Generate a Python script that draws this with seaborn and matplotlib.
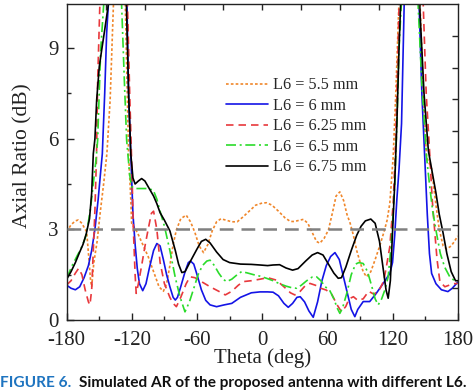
import numpy as np
import pandas as pd
import matplotlib
matplotlib.use("Agg")
import matplotlib.pyplot as plt
import seaborn as sns
from matplotlib.lines import Line2D

# ---------------- data ----------------
labels = ["L6 = 5.5 mm", "L6 = 6 mm", "L6 = 6.25 mm", "L6 = 6.5 mm", "L6 = 6.75 mm"]

theta_55 = [-180, -176, -172, -169.3, -166, -163, -161.6, -159.5, -158, -157, -156, -155, -152, -149, -146,
            -143, -140, -137, -133, -129, -126, -123, -121, -120.2, -115, -110, -105, -100, -95, -91, -88, -85,
            -82, -79, -75, -70, -66, -62, -58, -54, -50, -46, -42, -38, -33, -28, -23, -18, -12, -6, 0, 4, 9,
            15, 21, 26, 30, 34, 38, 42, 46, 50, 53, 57, 61, 65, 68, 71.5, 75, 78, 81, 84, 87, 90, 93, 96, 100,
            104, 108, 112, 115, 117.5, 120.6, 123, 125.8, 129, 142, 145.4, 148, 151.3, 156, 160, 163, 166.6,
            170, 174, 177, 180]
ar_55 = [2.92, 3.15, 3.28, 3.31, 3.2, 3.0, 2.92, 2.0, 1.3, 1.1, 1.5, 1.9, 2.6, 3.6, 4.5,
         5.5, 7.28, 10.4, 14, 14, 10.4, 5.5, 4.0, 3.2, 2.9, 2.5, 2.1, 1.6, 1.1, 0.95, 1.2, 1.8,
         2.5, 2.98, 3.35, 3.47, 3.25, 2.9, 2.45, 2.23, 2.5, 2.95, 3.25, 3.35, 3.3, 3.25, 3.25, 3.4, 3.6, 3.8, 3.87, 3.88, 3.8,
         3.6, 3.38, 3.26, 3.26, 3.3, 3.33, 3.2, 2.9, 2.6, 2.54, 2.7, 2.98, 3.6, 4.1, 4.24, 3.95, 3.5, 3.2, 2.8, 2.3, 1.93, 1.6, 1.43, 1.6,
         2.0, 2.43, 2.9, 3.3, 3.86, 5.4, 7.5, 10.4, 14, 14, 10.4, 7.8, 5.4, 5.0, 3.8, 3.0, 2.45,
         2.35, 2.45, 2.6, 2.78]

theta_6 = [-180, -176, -172, -168, -164, -160, -157, -154, -151, -149, -147.2, -145, -143.2, -141.7, -138,
           -128, -124.5, -123, -121, -119, -117, -115, -113, -110, -107, -104, -100, -97, -94, -91, -88, -85,
           -82, -80, -78, -75, -71, -68, -66, -63, -60, -56, -52, -48, -42, -35, -28, -20, -10, -2, 5, 10, 15,
           20, 24, 28, 32, 35, 39, 43, 47, 51, 55, 59, 63, 67, 71, 75, 79, 82, 85.3, 88, 93, 99, 105, 111.4,
           117.5, 120, 122, 124, 126, 128.3, 130.7, 134, 141, 144.5, 147, 149.5, 152, 154, 156, 160, 165, 171,
           175, 180]
ar_6 = [1.15, 1.05, 1.0, 1.1, 1.4, 1.8, 2.3, 3.0, 4.0, 4.8, 5.5, 7.5, 9.5, 10.4, 14,
        14, 10.4, 7.5, 5.5, 3.5, 2.5, 1.7, 1.2, 0.97, 1.2, 1.7, 2.3, 2.53, 2.45, 2.0, 1.5, 1.1,
        0.75, 0.66, 0.75, 1.1, 1.6, 1.9, 1.95, 1.85, 1.5, 1.0, 0.65, 0.5, 0.44, 0.5, 0.55, 0.75, 0.9, 0.93, 0.93, 0.92, 0.8,
        0.55, 0.42, 0.55, 0.75, 0.77, 0.6, 0.3, 0.09, 0.6, 1.3, 1.8, 2.1, 2.23, 2.0, 1.4, 0.8, 0.35, 0.11, 0.35, 0.61, 0.61, 0.88, 1.21,
        1.54, 1.9, 2.8, 4.0, 5.0, 6.5, 10.4, 14, 14, 10.4, 7.5, 5.5, 3.5, 2.2, 1.54, 1.2, 1.0, 0.94,
        1.05, 1.25]

theta_625 = [-180, -176, -172, -169, -166, -163, -160, -158.6, -157, -155.5, -154, -152.5, -151.5, -149.5, -146,
             -128, -124, -122, -120, -118.6, -117, -116, -114, -111, -108, -105, -102, -100, -97, -94, -90, -85,
             -82, -79, -75, -70, -66.5, -62, -55, -48, -40, -34, -28, -22, -17.5, -10, -2, 5, 13, 20, 26, 30, 35,
             40, 44, 49, 54, 59, 64, 69, 73, 77, 80, 84, 88, 93, 98, 103, 108, 112, 115, 117.5, 120.6, 122.5, 124,
             126, 130, 145, 148.3, 151, 154.4, 156.5, 159, 161, 163.6, 168.2, 172, 176, 180]
ar_625 = [1.16, 1.3, 1.55, 1.71, 1.5, 1.0, 0.6, 0.5, 1.0, 2.3, 3.64, 5.5, 7.9, 10.4, 14,
          14, 10.4, 7.5, 5.0, 3.0, 1.5, 0.88, 1.2, 1.8, 2.43, 3.0, 3.53, 3.6, 3.0, 1.9, 1.2, 0.75,
          0.55, 0.44, 0.75, 1.2, 1.43, 1.4, 1.25, 1.1, 0.95, 0.83, 0.95, 1.15, 1.27, 1.3, 1.35, 1.4, 1.32, 1.1, 0.9, 0.83, 0.95,
          1.15, 1.21, 1.15, 1.05, 0.99, 0.85, 0.5, 0.27, 0.45, 0.7, 0.77, 0.65, 0.7, 0.95, 0.85, 1.0, 1.3, 1.9, 2.43, 3.86, 5.5, 7.5,
          10.4, 14, 14, 10.4, 7.5, 5.4, 4.0, 2.87, 2.0, 1.27, 1.1, 1.15, 1.2, 1.21]

theta_65 = [-180, -175, -170, -167, -163, -161.6, -158, -155.5, -153, -151.5, -148.7, -146, -142,
            -133, -129.4, -127, -124.8, -122, -120.2, -117, -112, -106, -100.3, -97, -94, -90, -85, -80, -75.7,
            -71.1, -67, -63.5, -59, -55, -51, -48, -44, -40, -36, -32.8, -28, -23, -19, -14, -8, -2, 4, 10, 16,
            22, 27, 31.7, 36, 41, 46, 50, 54, 58, 62, 66, 69, 71.5, 74, 78, 82, 86, 89, 93, 97, 101, 104, 106.8,
            110, 113, 116, 118, 119.5, 122, 124, 126, 128, 132, 140, 143.6, 147, 151.3, 154.3, 157, 160.5, 164,
            168, 172.7, 176, 180]
ar_65 = [1.38, 1.8, 2.15, 2.35, 2.7, 2.9, 3.7, 4.52, 5.3, 5.95, 8.93, 10.4, 14,
         14, 10.4, 8.0, 5.95, 4.8, 4.41, 4.35, 4.35, 4.35, 4.3, 4.0, 3.6, 3.1, 2.3, 1.4, 0.77,
         0.27, 0.6, 0.99, 1.5, 1.8, 1.95, 1.98, 1.8, 1.55, 1.35, 1.27, 1.35, 1.5, 1.6, 1.56, 1.5, 1.45, 1.38, 1.3, 1.2,
         1.12, 1.07, 1.05, 1.15, 1.3, 1.42, 1.43, 1.3, 1.1, 0.99, 0.7, 0.4, 0.22, 0.4, 0.9, 1.5, 1.85, 1.9, 1.87, 1.6, 1.1, 0.7, 0.5,
         0.7, 1.0, 1.43, 2.2, 2.87, 4.5, 6.5, 9.0, 10.4, 14, 14, 10.4, 7.8, 5.4, 4.4, 3.6, 2.87, 2.2,
         1.75, 1.43, 1.33, 1.3]

theta_675 = [-180, -176, -172, -168, -165, -162, -159, -157, -155.5, -154, -152.4, -150, -147.8, -145, -141, -138,
             -128, -125, -123, -121, -119, -117, -114, -111, -108, -104, -100, -97, -94, -90, -85, -80, -77, -74,
             -71, -66, -60, -56, -52, -48, -42, -36, -30, -20, -10, -2, 5, 10, 16, 22, 28, 33, 40, 46, 51, 56, 61,
             66, 70, 73, 77, 82, 87, 91, 95, 100, 104, 108, 111, 114, 116, 118, 120, 122, 124, 126, 128, 135, 142,
             145, 149, 153, 156, 160, 163, 166.6, 170, 174, 178, 180]
ar_675 = [1.35, 1.6, 1.9, 2.25, 2.5, 2.85, 3.35, 4.2, 5.5, 6.0, 7.28, 8.38, 8.93, 9.6, 10.6, 14,
          14, 10.4, 7.5, 5.5, 4.7, 4.5, 4.6, 4.68, 4.6, 4.35, 4.1, 3.85, 3.55, 3.3, 2.95, 2.3, 1.85, 1.57,
          1.6, 1.95, 2.35, 2.6, 2.67, 2.55, 2.25, 2.0, 1.9, 1.85, 1.84, 1.82, 1.8, 1.82, 1.83, 1.72, 1.65, 1.7, 1.95, 2.15, 2.23, 2.15, 1.85,
          1.55, 1.38, 1.4, 1.75, 2.3, 2.8, 3.1, 3.28, 3.34, 3.2, 2.6, 1.8, 1.0, 0.72, 1.3, 2.9, 4.5, 6.5, 9.0, 11, 14, 14,
          10.4, 7.5, 5.6, 5.0, 4.2, 3.5, 2.87, 2.2, 1.6, 1.3, 1.3]

ref_level = 3.0
x_ticks = [-180, -120, -60, 0, 60, 120, 180]
y_ticks = [0, 3, 6, 9]
caption_head = "FIGURE 6."
caption_body = "Simulated AR of the proposed antenna with different L6."

series = [(theta_55, ar_55), (theta_6, ar_6), (theta_625, ar_625), (theta_65, ar_65), (theta_675, ar_675)]
colors = ["#f0862a", "#1414e6", "#e8383c", "#2bdc2b", "#000000"]
dashes = [(1.6, 1.3), (), (4.5, 3.0), (6, 2.2, 1.2, 2.2), ()]
LW = 1.2

# ---------------- plot ----------------
sns.set_theme(style="ticks")
plt.rcParams["font.family"] = ["Liberation Serif", "DejaVu Serif"]

fig = plt.figure(figsize=(4.74, 3.91), dpi=100)
ax = fig.add_axes([0.1407, 0.1816, 0.9656 - 0.1407, 0.9885 - 0.1816])

for (th, ar), c, d in zip(series, colors, dashes):
    df = pd.DataFrame({"theta": th, "ar": ar})
    sns.lineplot(data=df, x="theta", y="ar", ax=ax, color=c, linewidth=LW,
                 estimator=None, sort=False, legend=False)
    line = ax.lines[-1]
    if d:
        line.set_linestyle((0, d))

ax.axhline(ref_level, color="#808080", linewidth=1.8, linestyle=(0, (5.5, 3.2)), zorder=5)

ax.set_xlim(-180, 180)
ax.set_ylim(0, 10.44)
ax.set_xticks(x_ticks)
ax.set_xticklabels([str(t) for t in x_ticks])
ax.set_yticks(y_ticks)
ax.set_xticks(np.arange(-150, 180, 60), minor=True)
ax.set_yticks([1.5, 4.5, 7.5], minor=True)
ax.tick_params(axis="both", which="major", direction="in", length=5, width=1,
               labelsize=15, colors="#222222")
ax.tick_params(axis="x", which="major", pad=8)
ax.tick_params(axis="y", which="major", pad=6)
ax.tick_params(axis="both", which="minor", direction="in", length=3, width=1)
ax.set_xlabel("Theta (deg)", fontsize=15, labelpad=-1, color="#222222")
ax.set_ylabel("Axial Ratio (dB)", fontsize=15.5, labelpad=3, color="#222222")
ax.yaxis.set_label_coords(-0.088, 0.52)
for s in ax.spines.values():
    s.set_linewidth(1.0)
    s.set_color("#222222")

# unlabeled top / right ticks
axr = ax.twinx()
axr.set_ylim(0, 10.0)
axr.set_yticks(np.arange(1, 10))
axr.tick_params(axis="y", direction="in", length=4, width=1, labelright=False)
axt = ax.twiny()
axt.set_xlim(0, 10)
axt.set_xticks(np.arange(1, 10))
axt.tick_params(axis="x", direction="in", length=4, width=1, labeltop=False)
for a in (axr, axt):
    a.grid(False)
    for s in a.spines.values():
        s.set_visible(False)

handles = [Line2D([0], [0], color=c, linewidth=LW, linestyle=(0, d) if d else "-")
           for c, d in zip(colors, dashes)]
leg = ax.legend(handles, labels, loc="upper left", bbox_to_anchor=(0.39, 0.79),
                frameon=False, fontsize=11.7, handlelength=2.6, handletextpad=0.3,
                labelspacing=0.28, borderaxespad=0)

# caption, fitted to the figure width
cap_font = ["Lato", "DejaVu Sans"]
fs = 11.0
t1 = fig.text(0.0, 0.01, caption_head, fontsize=fs, fontweight="bold",
              color="#1e74c0", family=cap_font)
t2 = fig.text(0.0, 0.01, caption_body, fontsize=fs, fontweight="bold",
              color="#111111", family=cap_font)
fig.canvas.draw()
w = t1.get_window_extent().width + 8 + t2.get_window_extent().width
scale = 466.0 / w
fs = fs * scale
t1.set_fontsize(fs)
t2.set_fontsize(fs)
fig.canvas.draw()
bb = t1.get_window_extent()
t2.set_x((bb.x1 + 8 * scale) / fig.bbox.width)

fig.savefig("out.png", dpi=100)
